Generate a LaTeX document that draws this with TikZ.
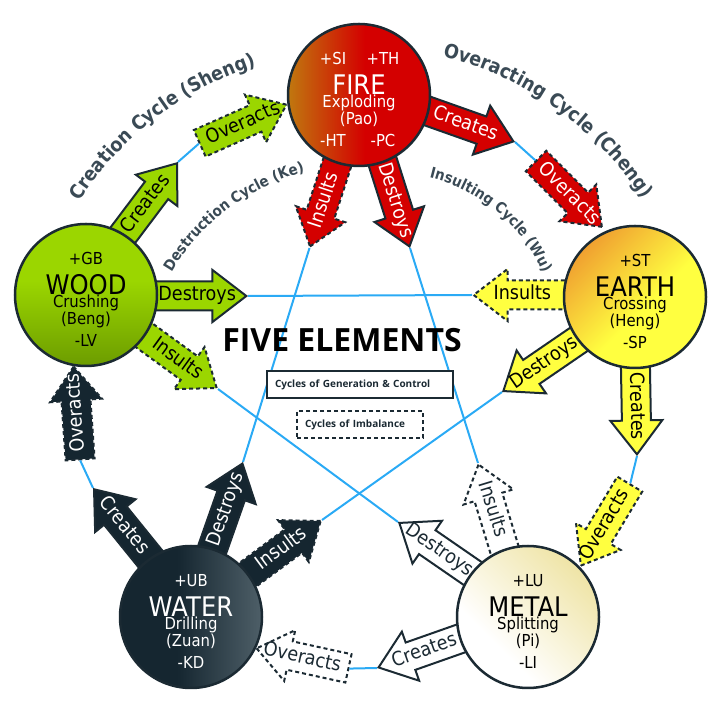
\documentclass[tikz,border=0pt]{standalone}
\usepackage{fontspec}
\setmainfont{DejaVu Sans}[FakeStretch=0.9]
\newfontfamily\titlefont{Open Sans}
\usetikzlibrary{calc,shapes.arrows,decorations.text,positioning}

\definecolor{edgecol}{HTML}{1B2A33}
\definecolor{linecol}{HTML}{2AAAF5}
\definecolor{labcol}{HTML}{3A4A55}
\definecolor{fireA}{HTML}{C0780F}
\definecolor{fireB}{HTML}{D40000}
\definecolor{woodA}{HTML}{9BD600}
\definecolor{woodB}{HTML}{6C9C00}
\definecolor{earthA}{HTML}{F0A030}
\definecolor{earthB}{HTML}{FFFF40}
\definecolor{waterA}{HTML}{152630}
\definecolor{waterB}{HTML}{4E5F68}
\definecolor{metalA}{HTML}{EFE4A6}

\pgfdeclarehorizontalshading{fireShade}{100bp}{color(0bp)=(fireA); color(25bp)=(fireA); color(52bp)=(fireB); color(100bp)=(fireB)}
\pgfdeclareverticalshading{woodShade}{100bp}{color(0bp)=(woodB); color(25bp)=(woodB); color(55bp)=(woodA); color(100bp)=(woodA)}
\pgfdeclareverticalshading{earthShade}{100bp}{color(0bp)=(earthB); color(45bp)=(earthB); color(75bp)=(earthA); color(100bp)=(earthA)}
\pgfdeclarehorizontalshading{waterShade}{100bp}{color(0bp)=(waterA); color(45bp)=(waterA); color(75bp)=(waterB); color(100bp)=(waterB)}
\pgfdeclareverticalshading{metalShade}{100bp}{color(0bp)=(white); color(35bp)=(white); color(75bp)=(metalA); color(100bp)=(metalA)}

\newcommand\myCycBig{\color{labcol}\bfseries\fontsize{19.5}{19.5}\selectfont}
\newcommand\myCycSmall{\color{labcol}\bfseries\fontsize{15}{15}\selectfont}

% block arrow with its label centred on it
% #1 style, #2 name, #3 tip, #4 rotation, #5 length, #6 text colour, #7 text
\newcommand\myBlock[7]{%
	\node[#1, rotate=#4, minimum height=#5pt] (#2) at (#3) {};
	\node[myArrowText, text=#6, rotate=#4] (#2Text) at ($(#2.tail)!0.5!(#2.tip)$) {#7};
}

\tikzset{
myElement/.style={
	circle, draw=edgecol, line width=2.5pt, shade,
	minimum size=142pt, inner sep=0pt
}
, myName/.style={font=\fontsize{27}{27}\selectfont, inner sep=0pt}
, mySmall/.style={
	font=\fontsize{16.5}{16.5}\selectfont, inner sep=0pt,
	text height=12pt, text depth=3.5pt
}
% block arrows
, myArrow/.style={
	single arrow, draw=edgecol, line width=2pt,
	inner xsep=2pt, inner ysep=4.5pt, text height=14pt, text depth=4pt,
	single arrow head extend=11.5pt, single arrow tip angle=75, anchor=tip
}
, myArrowText/.style={
	font=\fontsize{19.5}{19.5}\selectfont, inner sep=0pt,
	text height=14pt, text depth=4pt
}
, myBack/.style={shape border rotate=180}
, myImbalance/.style={dash pattern=on 4pt off 3pt}
, myWood/.style={myArrow, fill=woodA}
, myFire/.style={myArrow, fill=fireB}
, myEarth/.style={myArrow, fill=earthB}
, myWater/.style={myArrow, fill=waterA}
, myMetal/.style={myArrow, fill=white}
% link
, myLink/.style={draw=linecol, line width=2pt}
, myLegend/.style={
	draw=edgecol, line width=2pt, fill=white, minimum height=27pt,
	inner xsep=8pt, align=left, text=edgecol,
	font=\titlefont\bfseries\fontsize{10}{10}\selectfont
}
}

\begin{document}
\begin{tikzpicture}[x=1pt,y=1pt]
	\useasboundingbox (0,0) rectangle (720,720);
	% arrows: creation and overacting
	\myBlock{myWood}{woodCreates}{178,558}{53}{103}{black}{Creates}
	\myBlock{myWood, myImbalance}{woodOveracts}{288,616}{24}{95}{black}{Overacts}
	\myBlock{myFire}{fireCreates}{515,578}{-19.5}{103}{white}{Creates}
	\myBlock{myFire, myImbalance}{fireOveracts}{603,492}{-45}{93}{white}{Overacts}
	\myBlock{myEarth}{earthCreates}{637,264}{-89}{97}{black}{Creates}
	\myBlock{myEarth, myImbalance, myBack}{earthOveracts}{580,153}{59}{95}{black}{Overacts}
	\myBlock{myMetal, myBack}{metalCreates}{377,52}{19.4}{98}{edgecol}{Creates}
	\myBlock{myMetal, myImbalance, myBack}{metalOveracts}{255,72}{-12.3}{94}{edgecol}{Overacts}
	\myBlock{myWater, myBack}{waterCreates}{93,232}{-51}{95}{white}{Creates}
	\myBlock{myWater, myImbalance}{waterOveracts}{73.5,355}{94}{93}{white}{Overacts}
	% arrows: destruction and insulting
	\myBlock{myWood}{woodDestroys}{248,424}{0}{99}{black}{Destroys}
	\myBlock{myEarth, myImbalance, myBack}{earthInsults}{472,425}{0}{98}{black}{Insults}
	\myBlock{myEarth, myBack}{earthDestroys}{502,328}{34.4}{100}{black}{Destroys}
	\myBlock{myWater, myImbalance}{waterInsults}{322,200}{36.4}{97}{white}{Insults}
	\myBlock{myWater}{waterDestroys}{243,258}{70.6}{98}{white}{Destroys}
	\myBlock{myFire, myImbalance, myBack}{fireInsults}{309.5,472}{72}{97}{white}{Insults}
	\myBlock{myFire}{fireDestroys}{410,472}{-72.4}{97}{white}{Destroys}
	\myBlock{myMetal, myImbalance, myBack}{metalInsults}{478,257}{-73}{94}{edgecol}{Insults}
	\myBlock{myMetal, myBack}{metalDestroys}{398,198}{-34.6}{98}{edgecol}{Destroys}
	\myBlock{myWood, myImbalance}{woodInsults}{218,331}{-36}{98}{black}{Insults}

	% links
	\draw[myLink] (woodCreates.tip) -- (woodOveracts.tail);
	\draw[myLink] (fireCreates.tip) -- (fireOveracts.tail);
	\draw[myLink] (earthCreates.tip) -- (earthOveracts.tail);
	\draw[myLink] (metalCreates.tip) -- (metalOveracts.tail);
	\draw[myLink] (waterCreates.tip) -- (waterOveracts.tail);
	\draw[myLink] (woodDestroys.tip) -- (earthInsults.tip);
	\draw[myLink] (earthDestroys.tip) -- (waterInsults.tip);
	\draw[myLink] (waterDestroys.tip) -- (fireInsults.tip);
	\draw[myLink] (fireDestroys.tip) -- (metalInsults.tip);
	\draw[myLink] (metalDestroys.tip) -- (woodInsults.tip);

	% elements
	\node[myElement, shading=fireShade] (fire) at (359,625) {};
	\node[myElement, shading=woodShade] (wood) at (86,425) {};
	\node[myElement, shading=earthShade, shading angle=45] (earth) at (635,423) {};
	\node[myElement, shading=waterShade] (water) at (191,103) {};
	\node[myElement, shading=metalShade, shading angle=-45] (metal) at (528,103) {};

	\node[mySmall, text=white] (fireSI) at ([shift={(-26,35)}]fire.center) {+SI};
	\node[mySmall, text=white] (fireTH) at ([shift={(24,35)}]fire.center) {+TH};
	\node[myName, text=white] (fireName) at ([shift={(0,10)}]fire.center) {FIRE};
	\node[mySmall, text=white] (fireKind) at ([shift={(0,-8)}]fire.center) {Exploding};
	\node[mySmall, text=white] (fireSound) at ([shift={(0,-25)}]fire.center) {(Pao)};
	\node[mySmall, text=white] (fireHT) at ([shift={(-26,-47)}]fire.center) {-HT};
	\node[mySmall, text=white] (firePC) at ([shift={(24,-47)}]fire.center) {-PC};

	\node[mySmall] (woodGB) at ([shift={(0,35)}]wood.center) {+GB};
	\node[myName] (woodName) at ([shift={(0,10)}]wood.center) {WOOD};
	\node[mySmall] (woodKind) at ([shift={(0,-8)}]wood.center) {Crushing};
	\node[mySmall] (woodSound) at ([shift={(0,-25)}]wood.center) {(Beng)};
	\node[mySmall] (woodLV) at ([shift={(0,-47)}]wood.center) {-LV};

	\node[mySmall] (earthST) at ([shift={(0,35)}]earth.center) {+ST};
	\node[myName] (earthName) at ([shift={(0,10)}]earth.center) {EARTH};
	\node[mySmall] (earthKind) at ([shift={(0,-8)}]earth.center) {Crossing};
	\node[mySmall] (earthSound) at ([shift={(0,-25)}]earth.center) {(Heng)};
	\node[mySmall] (earthSP) at ([shift={(0,-47)}]earth.center) {-SP};

	\node[mySmall, text=white] (waterUB) at ([shift={(0,35)}]water.center) {+UB};
	\node[myName, text=white] (waterName) at ([shift={(0,10)}]water.center) {WATER};
	\node[mySmall, text=white] (waterKind) at ([shift={(0,-8)}]water.center) {Drilling};
	\node[mySmall, text=white] (waterSound) at ([shift={(0,-25)}]water.center) {(Zuan)};
	\node[mySmall, text=white] (waterKD) at ([shift={(0,-47)}]water.center) {-KD};

	\node[mySmall] (metalLU) at ([shift={(0,35)}]metal.center) {+LU};
	\node[myName] (metalName) at ([shift={(0,10)}]metal.center) {METAL};
	\node[mySmall] (metalKind) at ([shift={(0,-8)}]metal.center) {Splitting};
	\node[mySmall] (metalSound) at ([shift={(0,-25)}]metal.center) {(Pi)};
	\node[mySmall] (metalLI) at ([shift={(0,-47)}]metal.center) {-LI};

	% cycle names
	\path[decorate, decoration={text along path, text align=center,
		text={|\myCycBig|Creation Cycle (Sheng)}}]
		(360,336) ++(162:335pt) arc[start angle=162, end angle=93, radius=335pt];
	\path[decorate, decoration={text along path, text align=center,
		text={|\myCycBig|Overacting Cycle (Cheng)}}]
		(360,336) ++(90:338pt) arc[start angle=90, end angle=19, radius=338pt];
	\path[decorate, decoration={text along path, text align=center,
		text={|\myCycSmall|Destruction Cycle (Ke)}}]
		(360,336) ++(162:219pt) arc[start angle=162, end angle=92, radius=219pt];
	\path[decorate, decoration={text along path, text align=center,
		text={|\myCycSmall|Insulting Cycle (Wu)}}]
		(390,380) ++(95:167pt) arc[start angle=95, end angle=5, radius=167pt];

	% title and legend
	\node[font=\titlefont\bfseries\fontsize{32}{32}\selectfont, text=black] (title) at (342,380) {FIVE ELEMENTS};
	\node[myLegend, text width=170pt] (legendSolid) at (360,335.5) {Cycles of Generation \& Control};
	\node[myLegend, myImbalance, text width=110pt] (legendDashed) at (360,295.5) {Cycles of Imbalance};
\end{tikzpicture}
\end{document}
